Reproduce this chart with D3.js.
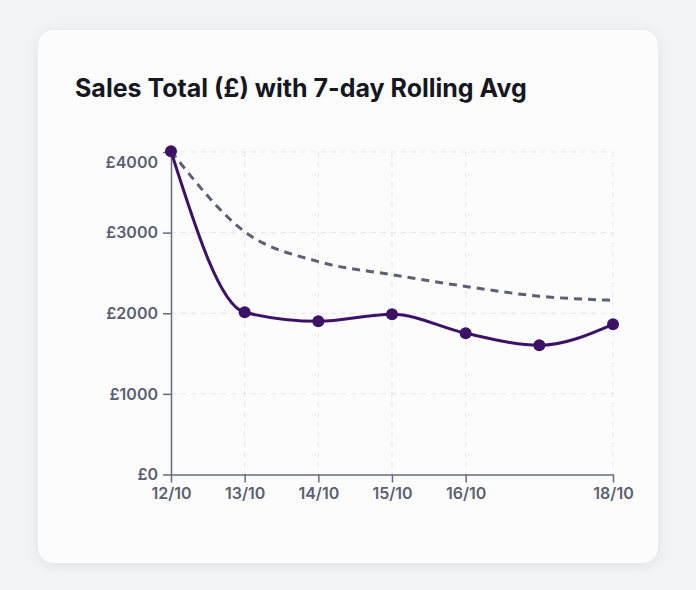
<!DOCTYPE html>
<html>
<head>
<meta charset="utf-8">
<script src="https://cdn.jsdelivr.net/npm/d3@7"></script>
<style>
  html, body { margin: 0; padding: 0; background: #f2f3f7; }
  svg { display: block; font-family: Inter, "Noto Sans", sans-serif; }
</style>
</head>
<body>
<div id="chart"></div>
<script>
// sales line + rolling average
const days = ["12/10", "13/10", "14/10", "15/10", "16/10", "17/10", "18/10"];
const sales = [4010, 2012, 1900, 1988, 1752, 1602, 1863];
const rollingAvg = [4010, 3012, 2641, 2478, 2333, 2211, 2161];
const xTicks = ["12/10", "13/10", "14/10", "15/10", "16/10", "18/10"];
const yTicks = [0, 1000, 2000, 3000, 4000];

const width = 696, height = 590;
const margin = {left: 171, right: 83, top: 152, bottom: 115.5};

const svg = d3.select("#chart").append("svg")
    .attr("width", width)
    .attr("height", height);

const defs = svg.append("defs");
const shadow = defs.append("filter").attr("id", "shadow")
    .attr("x", "-10%").attr("y", "-10%").attr("width", "120%").attr("height", "120%");
shadow.append("feDropShadow")
    .attr("dx", 0).attr("dy", 2).attr("stdDeviation", 6)
    .attr("flood-color", "#1c2340").attr("flood-opacity", 0.08);

// card
svg.append("rect")
    .attr("x", 38).attr("y", 30)
    .attr("width", 620).attr("height", 533)
    .attr("rx", 16)
    .attr("fill", "#fcfcfd")
    .attr("filter", "url(#shadow)");

svg.append("text")
    .attr("x", 75).attr("y", 97)
    .attr("font-size", 25)
    .attr("font-weight", 700)
    .attr("fill", "#16171f")
    .text("Sales Total (£) with 7-day Rolling Avg");

const x = d3.scalePoint().domain(days).range([margin.left, width - margin.right]);
const y = d3.scaleLinear().domain([0, 4000]).range([height - margin.bottom, margin.top]);

// grid (dashed)
const grid = svg.append("g")
    .attr("stroke", "#e4e5ea")
    .attr("stroke-width", 1)
    .attr("stroke-dasharray", "5,5");
grid.selectAll("line.h")
    .data(yTicks.filter(d => d > 0))
    .join("line")
    .attr("class", "h")
    .attr("x1", margin.left).attr("x2", width - margin.right)
    .attr("y1", d => y(d)).attr("y2", d => y(d));
grid.selectAll("line.v")
    .data(xTicks.slice(1))
    .join("line")
    .attr("class", "v")
    .attr("x1", d => x(d)).attr("x2", d => x(d))
    .attr("y1", margin.top).attr("y2", height - margin.bottom);

// axes
const xAxis = svg.append("g")
    .attr("transform", `translate(0,${height - margin.bottom})`)
    .call(d3.axisBottom(x).tickValues(xTicks).tickSize(8).tickPadding(5).tickSizeOuter(0));
const yAxis = svg.append("g")
    .attr("transform", `translate(${margin.left},0)`)
    .call(d3.axisLeft(y).tickValues(yTicks).tickFormat(d => "£" + d).tickSize(8).tickPadding(5).tickSizeOuter(0));

[xAxis, yAxis].forEach(a => {
  a.select(".domain").attr("stroke", "#676b7c").attr("stroke-width", 1.5);
  a.selectAll(".tick line").attr("stroke", "#676b7c").attr("stroke-width", 1.5);
  a.selectAll(".tick text")
    .attr("font-size", 16)
    .attr("font-weight", 600)
    .attr("fill", "#5a5f71")
    .attr("font-family", "Inter, sans-serif");
});
// top label pushed down so it isn't clipped
yAxis.selectAll(".tick text").filter(d => d === 4000).attr("dy", "0.95em");

// rolling avg (dashed)
svg.append("path")
    .datum(rollingAvg)
    .attr("fill", "none")
    .attr("stroke", "#5b6073")
    .attr("stroke-width", 3)
    .attr("stroke-dasharray", "8,6")
    .attr("d", d3.line()
      .x((d, i) => x(days[i]))
      .y(d => y(d))
      .curve(d3.curveMonotoneX));

// sales line
svg.append("path")
    .datum(sales)
    .attr("fill", "none")
    .attr("stroke", "#3d1266")
    .attr("stroke-width", 3)
    .attr("d", d3.line()
      .x((d, i) => x(days[i]))
      .y(d => y(d))
      .curve(d3.curveMonotoneX));

svg.append("g")
    .selectAll("circle")
    .data(sales)
    .join("circle")
    .attr("cx", (d, i) => x(days[i]))
    .attr("cy", d => y(d))
    .attr("r", 6)
    .attr("fill", "#3d1266");
</script>
</body>
</html>
